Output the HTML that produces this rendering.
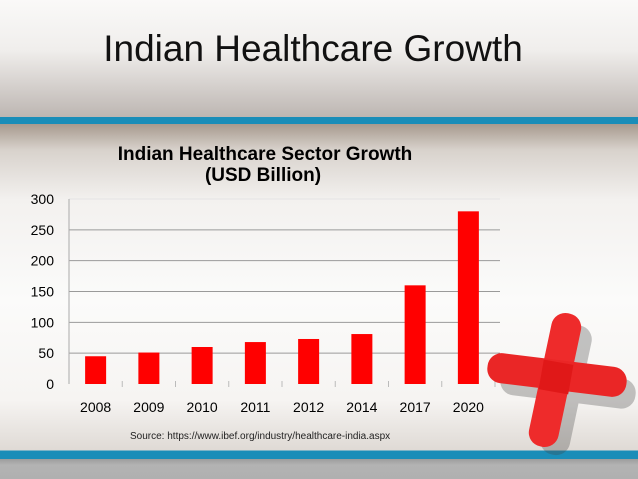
<!DOCTYPE html>
<html><head><meta charset="utf-8"><style>
body{margin:0;width:638px;height:479px;overflow:hidden;font-family:"Liberation Sans",Arial,sans-serif;}
#page{position:relative;width:638px;height:479px;background:linear-gradient(#faf9f8 0px,#f0eeec 50px,#bdb6b2 117px,#1a8db8 117px,#1a8db8 124px,#a79a8e 124px,#d8d2cc 150px,#f3f1ef 200px,#fbfbfa 300px,#f6f4f2 400px,#dfdad5 450px,#1a8db8 451px,#1a8db8 459px,#9c9c9c 459px,#b3b3b3 465px,#b0b0b0 479px);}
</style></head><body>
<div id="page">
<div style="position:absolute;left:0;width:626px;top:28px;text-align:center;font-size:37px;color:#111;">Indian Healthcare Growth</div>
<svg id="chart" width="638" height="479" style="position:absolute;left:0;top:0">
<text x="265" y="160" text-anchor="middle" font-size="19" font-weight="bold" font-family="Liberation Sans, Arial, sans-serif">Indian Healthcare Sector Growth</text>
<text x="263" y="181" text-anchor="middle" font-size="19" font-weight="bold" font-family="Liberation Sans, Arial, sans-serif">(USD Billion)</text>
<g id="grid"></g><g id="bars"></g><g id="axes"></g>
<text x="130" y="439" font-size="10" fill="#222" font-family="Liberation Sans, Arial, sans-serif">Source: https://www.ibef.org/industry/healthcare-india.aspx</text>
<g>
<g opacity="0.3" fill="#444"><rect x="-15" y="-66" width="30" height="132" rx="14" transform="translate(566,390) rotate(12)"/><rect x="-68" y="-15" width="136" height="30" rx="14" transform="translate(568,387) rotate(7)"/></g>
<rect x="-15" y="-68" width="30" height="136" rx="14" fill="#ee2b2b" transform="translate(555,380) rotate(12)"/>
<rect x="-70" y="-15" width="140" height="30" rx="14" fill="#ea2626" transform="translate(557,375) rotate(7)"/>
<rect x="-15" y="-15" width="30" height="30" fill="#e01818" transform="translate(556,377) rotate(10)"/>
</g>
</svg>
<script>
const categories=["2008","2009","2010","2011","2012","2014","2017","2020"];
const values=[45,51,60,68,73,81,160,280];
const ticks=[0,50,100,150,200,250,300];
const NS="http://www.w3.org/2000/svg";
const x0=69,x1=495,y0=384,y1=199,ymax=300;
const band=(x1-x0)/categories.length;
function xs(i){return x0+band*(i+0.5);}
function ys(v){return y0-(y0-y1)*v/ymax;}
function mk(t,a){const e=document.createElementNS(NS,t);for(const k in a)e.setAttribute(k,a[k]);return e;}
const grid=document.getElementById('grid'),bars=document.getElementById('bars'),axes=document.getElementById('axes');
ticks.forEach(t=>{
 if(t>0){const l=mk('line',{x1:x0,x2:500,y1:ys(t),y2:ys(t),stroke:t==300?'#e4e4e4':'#9a9a9a','stroke-width':1});
 
 
 grid.appendChild(l);}
 const tx=mk('text',{x:54,y:ys(t)+5,'text-anchor':'end','font-size':14,'font-family':'Liberation Sans, Arial, sans-serif'});
 tx.textContent=t;
 
 
 axes.appendChild(tx);
});
const ya=mk('line',{x1:x0,x2:x0,y1:y1,y2:y0,stroke:'#aaa'});


axes.appendChild(ya);
categories.forEach((c,i)=>{
 const b=mk('rect',{x:xs(i)-10.5,y:ys(values[i]),width:21,height:y0-ys(values[i]),fill:'#ff0000'});
 
 
 bars.appendChild(b);
 const tk=mk('line',{x1:x0+band*(i+1),x2:x0+band*(i+1),y1:y0-3,y2:y0+3,stroke:'#bbb'});
 
 
 axes.appendChild(tk);
 const tx=mk('text',{x:xs(i),y:412,'text-anchor':'middle','font-size':14,'font-family':'Liberation Sans, Arial, sans-serif'});
 tx.textContent=c;
 
 
 axes.appendChild(tx);
});
</script>
</div></body></html>
